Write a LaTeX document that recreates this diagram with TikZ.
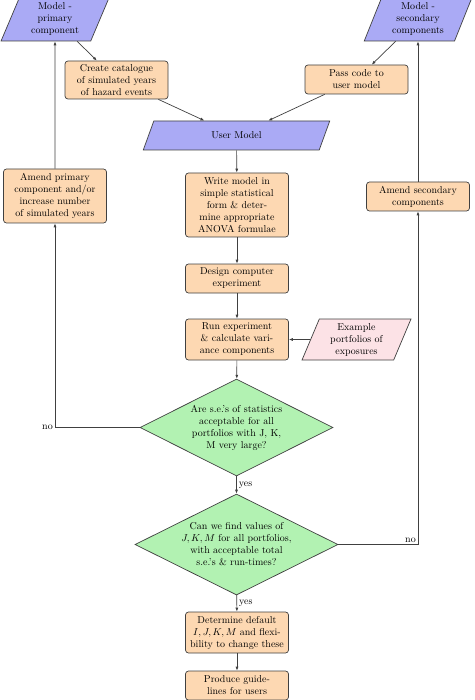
\documentclass[tikz,border=0pt]{standalone}
\usetikzlibrary{shapes.geometric,arrows.meta}
\definecolor{lineC}{HTML}{404040}
\definecolor{ioblue}{HTML}{AAAAF5}
\definecolor{procorange}{HTML}{FDD8B2}
\definecolor{decgreen}{HTML}{B2F2B2}
\definecolor{inpink}{HTML}{FCE2E6}
\tikzset{
  procbox/.style={draw=lineC, fill=procorange, rounded corners=3pt, minimum width=103pt,
    align=center, inner sep=3pt, line width=0.7pt},
  iobox/.style={trapezium, trapezium left angle=70, trapezium right angle=110,
    trapezium stretches=true, draw=lineC, fill=ioblue, align=center, inner sep=1pt, line width=0.7pt},
  inbox/.style={iobox, fill=inpink},
  decision/.style={diamond, aspect=2, draw=lineC, fill=decgreen, align=center, inner sep=0pt,
    minimum width=193pt, minimum height=97pt, line width=0.7pt},
  arr/.style={draw=lineC, line width=0.7pt, -{Latex[length=4pt,width=3pt]}},
  plainline/.style={draw=lineC, line width=0.7pt},
  lbl/.style={inner sep=2pt}
}
\begin{document}
\begin{tikzpicture}[x=1pt,y=-1pt]
\useasboundingbox (0,0) rectangle (474,700);
\clip (0,0) rectangle (474,700);
% input / output shapes
\node[iobox, minimum width=108pt, minimum height=43pt] (prim) at (55,19.5) {Model -\\primary\\component};
\node[iobox, minimum width=108pt, minimum height=43pt] (sec) at (418,19.5) {Model -\\secondary\\components};
\node[iobox, minimum width=187pt, minimum height=29pt] (user) at (236.5,135.5) {User Model};
\node[inbox, minimum width=109pt, minimum height=41pt] (ex) at (356.5,339.5) {Example\\portfolios of\\exposures};
% process boxes
\node[procbox, minimum height=38pt] (cat) at (116.5,80) {Create catalogue\\of simulated years\\of hazard events};
\node[procbox, minimum height=29pt] (pass) at (356.5,79.5) {Pass code to\\user model};
\node[procbox, minimum height=64pt] (write) at (237,205) {Write model in\\simple statistical\\form \& deter-\\mine appropriate\\ANOVA formulae};
\node[procbox, minimum height=29pt] (design) at (237,278.5) {Design computer\\experiment};
\node[procbox, minimum height=41pt] (run) at (237,339.5) {Run experiment\\\& calculate vari-\\ance components};
\node[procbox, minimum height=54pt] (ampri) at (55,196) {Amend primary\\component and/or\\increase number\\of simulated years};
\node[procbox, minimum height=29pt] (amsec) at (418,196.5) {Amend secondary\\components};
\node[procbox, minimum height=41pt] (det) at (237,632.5) {Determine default\\$I, J, K, M$ and flexi-\\bility to change these};
\node[procbox, minimum height=29pt] (prod) at (237,685.5) {Produce guide-\\lines for users};
% decisions
\node[decision] (d1) at (236.5,427.5) {Are s.e.'s of statistics\\acceptable for all\\portfolios with J, K,\\M very large?};
\node[decision, minimum width=203pt, minimum height=101pt] (d2) at (236.5,544.5) {Can we find values of\\$J, K, M$ for all portfolios,\\with acceptable total\\s.e.'s \& run-times?};
% corners
\coordinate (c1) at (55,427.5);
\coordinate (c2) at (418,544.5);
\node[lbl, anchor=east] (no1) at (c1) {no};
\node[lbl, anchor=south east] (no2) at (c2) {no};
% connectors
\draw[arr] (prim) -- (cat);
\draw[arr] (cat) -- (user);
\draw[arr] (sec) -- (pass);
\draw[arr] (pass) -- (user);
\draw[arr] (user) -- (write);
\draw[arr] (write) -- (design);
\draw[arr] (design) -- (run);
\draw[arr] (ex) -- (run);
\draw[arr] (run) -- (d1);
\draw[arr] (d1) -- node[lbl, anchor=west] {yes} (d2);
\draw[arr] (d2) -- node[lbl, anchor=west] {yes} (det);
\draw[arr] (det) -- (prod);
\draw[arr] (d1.west) -- (c1) -- (ampri.south);
\draw[arr] (ampri) -- (prim);
\draw[arr] (d2.east) -- (c2) -- (amsec.south);
\draw[arr] (amsec) -- (sec);
\end{tikzpicture}
\end{document}
